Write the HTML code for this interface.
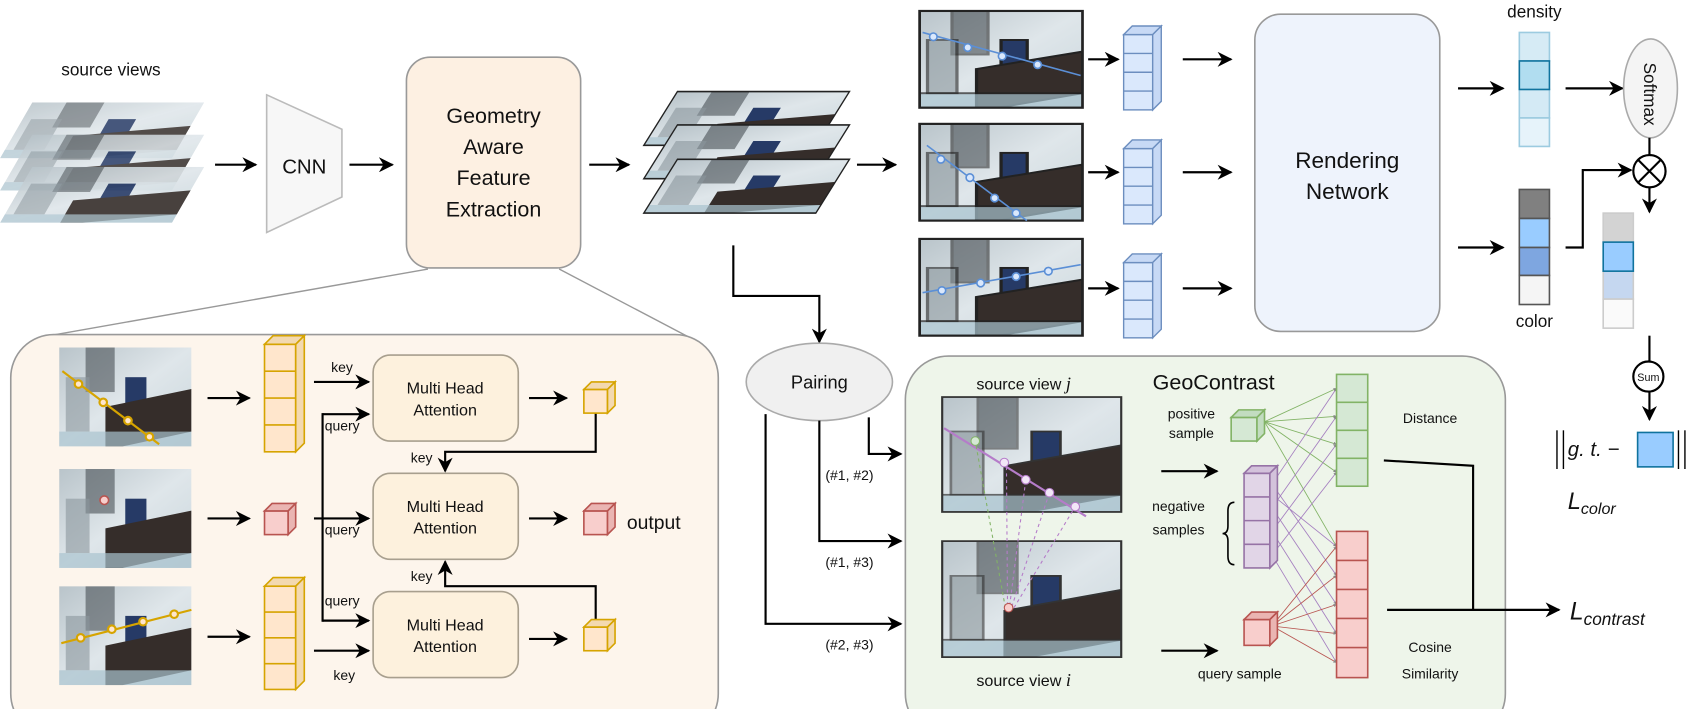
<!DOCTYPE html>
<html><head><meta charset="utf-8"><style>
html,body{margin:0;padding:0;background:#fff}
svg{display:block}
text{font-family:"Liberation Sans","DejaVu Sans",sans-serif;fill:#111}
</style></head><body>
<svg width="1686" height="709" viewBox="0 0 1568 659" xmlns="http://www.w3.org/2000/svg">
<defs>
<marker id="ar" viewBox="0 0 10 10" refX="9" refY="5" markerWidth="7" markerHeight="7" orient="auto-start-reverse"><path d="M0,0 L10,5 L0,10 L3,5 z" fill="#000"/></marker>
<marker id="sa" viewBox="0 0 10 10" refX="9" refY="5" markerWidth="4" markerHeight="4" orient="auto"><path d="M0,0 L10,5 L0,10 z" fill="#888"/></marker>
<linearGradient id="bg" x1="0" y1="0" x2="1" y2="1"><stop offset="0" stop-color="#b9c4ca"/><stop offset="0.5" stop-color="#dfe6ea"/><stop offset="1" stop-color="#c9d6dc"/></linearGradient>
<symbol id="ph" viewBox="0 0 100 100" preserveAspectRatio="none">
<rect width="100" height="100" fill="url(#bg)"/>
<rect x="20" y="0" width="22" height="45" fill="#3c4348" opacity="0.55"/>
<rect x="5" y="30" width="18" height="55" fill="#8a969c" opacity="0.6"/>
<rect x="50" y="30" width="16" height="38" fill="#263a66"/>
<polygon points="35,60 100,42 100,85 48,100 35,100" fill="#352d2a"/>
<rect x="0" y="85" width="100" height="15" fill="#a9c3cf" opacity="0.7"/>
</symbol>
</defs>

<!-- source views -->
<text x="57" y="70" font-size="16">source views</text>
<g transform="translate(30,95) skewX(-30)"><use href="#ph" width="160" height="52" opacity="0.85"/></g>
<g transform="translate(30,125) skewX(-30)"><use href="#ph" width="160" height="52" opacity="0.85"/></g>
<g transform="translate(30,155) skewX(-30)"><use href="#ph" width="160" height="52" opacity="0.9"/></g>
<line x1="200" y1="153" x2="238" y2="153" stroke="#000" stroke-width="2" marker-end="url(#ar)"/>

<polygon points="248,88 318,120 318,183 248,216" fill="#f7f7f7" stroke="#bbb" stroke-width="1.5"/>
<text x="283" y="161" font-size="19" text-anchor="middle">CNN</text>
<line x1="325" y1="153" x2="365" y2="153" stroke="#000" stroke-width="2" marker-end="url(#ar)"/>

<rect x="378" y="53" width="162" height="196" rx="22" fill="#fdf0e2" stroke="#999" stroke-width="1.5"/>
<g font-size="20" text-anchor="middle"><text x="459" y="114">Geometry</text><text x="459" y="143">Aware</text><text x="459" y="172">Feature</text><text x="459" y="201">Extraction</text></g>
<line x1="548" y1="153" x2="585" y2="153" stroke="#000" stroke-width="2" marker-end="url(#ar)"/>

<!-- feature stack -->
<g transform="translate(630,85) skewX(-32)"><use href="#ph" width="160" height="50"/><rect width="160" height="50" fill="none" stroke="#222" stroke-width="1.5"/></g>
<g transform="translate(630,116) skewX(-32)"><use href="#ph" width="160" height="50"/><rect width="160" height="50" fill="none" stroke="#222" stroke-width="1.5"/></g>
<g transform="translate(630,148) skewX(-32)"><use href="#ph" width="160" height="50"/><rect width="160" height="50" fill="none" stroke="#222" stroke-width="1.5"/></g>
<line x1="797" y1="153" x2="833" y2="153" stroke="#000" stroke-width="2" marker-end="url(#ar)"/>

<!-- three ray images -->
<g stroke="#222" stroke-width="2">
<use href="#ph" x="855" y="10" width="152" height="90"/><rect x="855" y="10" width="152" height="90" fill="none"/>
<use href="#ph" x="855" y="115" width="152" height="90"/><rect x="855" y="115" width="152" height="90" fill="none"/>
<use href="#ph" x="855" y="222" width="152" height="90"/><rect x="855" y="222" width="152" height="90" fill="none"/>
</g>
<g stroke="#5b8fd6" stroke-width="1.5" fill="#dae8fc">
<line x1="858" y1="30" x2="1005" y2="70"/><circle cx="868" cy="34" r="3.5"/><circle cx="900" cy="44" r="3.5"/><circle cx="932" cy="52" r="3.5"/><circle cx="965" cy="60" r="3.5"/>
<line x1="862" y1="135" x2="955" y2="205"/><circle cx="875" cy="148" r="3.5"/><circle cx="902" cy="165" r="3.5"/><circle cx="925" cy="184" r="3.5"/><circle cx="945" cy="198" r="3.5"/>
<line x1="858" y1="272" x2="1005" y2="246"/><circle cx="876" cy="270" r="3.5"/><circle cx="912" cy="263" r="3.5"/><circle cx="945" cy="257" r="3.5"/><circle cx="975" cy="252" r="3.5"/>
</g>
<g stroke="#000" stroke-width="2" marker-end="url(#ar)">
<line x1="1012" y1="55" x2="1040" y2="55"/><line x1="1012" y1="160" x2="1040" y2="160"/><line x1="1012" y1="268" x2="1040" y2="268"/>
<line x1="1100" y1="55" x2="1145" y2="55"/><line x1="1100" y1="160" x2="1145" y2="160"/><line x1="1100" y1="268" x2="1145" y2="268"/>
</g>
<!-- blue columns -->
<g fill="#dae8fc" stroke="#6c8ebf" stroke-width="1.3">
<g><rect x="1045" y="32" width="27" height="70"/><polygon points="1045,32 1053,24 1080,24 1072,32" fill="#c7d9f5"/><polygon points="1072,32 1080,24 1080,94 1072,102" fill="#c7d9f5"/><path d="M1045,49.5h27M1045,67h27M1045,84.5h27"/></g>
<g transform="translate(0,106)"><rect x="1045" y="32" width="27" height="70"/><polygon points="1045,32 1053,24 1080,24 1072,32" fill="#c7d9f5"/><polygon points="1072,32 1080,24 1080,94 1072,102" fill="#c7d9f5"/><path d="M1045,49.5h27M1045,67h27M1045,84.5h27"/></g>
<g transform="translate(0,212)"><rect x="1045" y="32" width="27" height="70"/><polygon points="1045,32 1053,24 1080,24 1072,32" fill="#c7d9f5"/><polygon points="1072,32 1080,24 1080,94 1072,102" fill="#c7d9f5"/><path d="M1045,49.5h27M1045,67h27M1045,84.5h27"/></g>
</g>

<rect x="1167" y="13" width="172" height="295" rx="24" fill="#eef3fc" stroke="#999" stroke-width="1.5"/>
<text x="1253" y="156" font-size="21" text-anchor="middle">Rendering</text>
<text x="1253" y="185" font-size="21" text-anchor="middle">Network</text>

<!-- density / color -->
<text x="1427" y="16" font-size="16" text-anchor="middle">density</text>
<g stroke="#9ccbe0" stroke-width="1.5"><rect x="1413" y="30" width="28" height="26.5" fill="#d6ebf5"/><rect x="1413" y="83" width="28" height="26.5" fill="#d4eaf5"/><rect x="1413" y="109.5" width="28" height="26.5" fill="#e6f3fa"/></g>
<rect x="1413" y="56.5" width="28" height="26.5" fill="#b1ddf0" stroke="#10739e" stroke-width="1.5"/>
<g stroke="#000" stroke-width="2" marker-end="url(#ar)"><line x1="1356" y1="82" x2="1398" y2="82"/><line x1="1456" y1="82" x2="1509" y2="82"/><line x1="1356" y1="230" x2="1398" y2="230"/></g>
<ellipse cx="1535" cy="82" rx="25" ry="46" fill="#f4f4f4" stroke="#aaa" stroke-width="1.5"/>
<text x="0" y="0" font-size="16" transform="translate(1529,58) rotate(90)">Softmax</text>
<line x1="1534" y1="128" x2="1534" y2="144" stroke="#000" stroke-width="2"/>
<circle cx="1534" cy="159" r="15" fill="#fff" stroke="#000" stroke-width="2"/>
<path d="M1523.5,148.5 L1544.5,169.5 M1544.5,148.5 L1523.5,169.5" stroke="#000" stroke-width="2"/>
<polyline points="1456,230 1472,230 1472,158 1517,158" fill="none" stroke="#000" stroke-width="2" marker-end="url(#ar)"/>
<g stroke="#555" stroke-width="1.5"><rect x="1413" y="176" width="28" height="27" fill="#808080"/><rect x="1413" y="203" width="28" height="27" fill="#99ccff"/><rect x="1413" y="230" width="28" height="26" fill="#7ea6e0"/><rect x="1413" y="256" width="28" height="27" fill="#f5f5f5"/></g>
<text x="1427" y="304" font-size="16" text-anchor="middle">color</text>
<line x1="1534" y1="174" x2="1534" y2="197" stroke="#000" stroke-width="2" marker-end="url(#ar)"/>
<g stroke="#ccc" stroke-width="1.5"><rect x="1491" y="198" width="28" height="27" fill="#d3d3d3"/><rect x="1491" y="252" width="28" height="26" fill="#c5d7f0"/><rect x="1491" y="278" width="28" height="27" fill="#fafafa"/></g>
<rect x="1491" y="225" width="28" height="27" fill="#99ccff" stroke="#10739e" stroke-width="1.5"/>
<line x1="1534" y1="312" x2="1534" y2="336" stroke="#000" stroke-width="2"/>
<circle cx="1533" cy="350" r="14" fill="#fff" stroke="#000" stroke-width="2"/>
<text x="1533" y="354" font-size="10" text-anchor="middle">Sum</text>
<line x1="1534" y1="364" x2="1534" y2="390" stroke="#000" stroke-width="2" marker-end="url(#ar)"/>
<g stroke="#000" stroke-width="1.3"><line x1="1448" y1="400" x2="1448" y2="436"/><line x1="1454" y1="400" x2="1454" y2="436"/><line x1="1561" y1="400" x2="1561" y2="436"/><line x1="1567" y1="400" x2="1567" y2="436"/></g>
<text x="1458" y="424" font-size="19" font-family="Liberation Serif" font-style="italic">g. t. −</text>
<rect x="1523" y="402" width="33" height="32" fill="#99ccff" stroke="#10739e" stroke-width="1.5"/>
<text x="1458" y="473" font-size="22" font-family="Liberation Serif" font-style="italic">L<tspan font-size="15" dy="5">color</tspan></text>

<!-- left detail box -->
<line x1="398" y1="250" x2="40" y2="313" stroke="#999" stroke-width="1.3"/>
<line x1="520" y1="250" x2="640" y2="313" stroke="#999" stroke-width="1.3"/>
<rect x="10" y="311" width="658" height="374" rx="40" fill="#fdf5ec" stroke="#999" stroke-width="1.5"/>
<use href="#ph" x="55" y="323" width="123" height="92"/>
<use href="#ph" x="55" y="436" width="123" height="92"/>
<use href="#ph" x="55" y="545" width="123" height="92"/>
<g stroke="#d6a400" stroke-width="2" fill="#ffe6cc">
<line x1="58" y1="345" x2="148" y2="413"/><circle cx="73" cy="357" r="3.5"/><circle cx="96" cy="374" r="3.5"/><circle cx="119" cy="391" r="3.5"/><circle cx="139" cy="406" r="3.5"/>
<line x1="57" y1="598" x2="178" y2="567"/><circle cx="75" cy="593" r="3.5"/><circle cx="104" cy="585" r="3.5"/><circle cx="133" cy="578" r="3.5"/><circle cx="162" cy="571" r="3.5"/>
</g>
<circle cx="97" cy="465" r="4" fill="#f8cecc" stroke="#b85450" stroke-width="1.5"/>
<g stroke="#000" stroke-width="2" marker-end="url(#ar)">
<line x1="193" y1="370" x2="232" y2="370"/><line x1="193" y1="482" x2="232" y2="482"/><line x1="193" y1="592" x2="232" y2="592"/>
<line x1="292" y1="355" x2="343" y2="355"/><line x1="292" y1="605" x2="343" y2="605"/><line x1="292" y1="482" x2="343" y2="482"/>
<line x1="300" y1="385" x2="343" y2="385"/><line x1="300" y1="577" x2="343" y2="577"/>
<line x1="492" y1="370" x2="527" y2="370"/><line x1="492" y1="482" x2="527" y2="482"/><line x1="492" y1="594" x2="527" y2="594"/>
</g>
<line x1="300" y1="384" x2="300" y2="578" stroke="#000" stroke-width="2"/>
<polyline points="554,384 554,420 414,420 414,438" fill="none" stroke="#000" stroke-width="2" marker-end="url(#ar)"/>
<polyline points="554,582 554,545 414,545 414,522" fill="none" stroke="#000" stroke-width="2" marker-end="url(#ar)"/>
<g font-size="13"><text x="308" y="346">key</text><text x="302" y="400">query</text><text x="382" y="430">key</text><text x="302" y="497">query</text><text x="382" y="540">key</text><text x="302" y="563">query</text><text x="310" y="632">key</text></g>
<g fill="#fdf1dd" stroke="#a89f8e" stroke-width="1.5">
<rect x="347" y="330" width="135" height="80" rx="16"/><rect x="347" y="440" width="135" height="80" rx="16"/><rect x="347" y="550" width="135" height="80" rx="16"/>
</g>
<g font-size="15" text-anchor="middle"><text x="414" y="366">Multi Head</text><text x="414" y="386">Attention</text><text x="414" y="476">Multi Head</text><text x="414" y="496">Attention</text><text x="414" y="586">Multi Head</text><text x="414" y="606">Attention</text></g>
<!-- orange columns -->
<g fill="#ffe6cc" stroke="#d6a400" stroke-width="1.5">
<rect x="246" y="320" width="29" height="100"/><polygon points="246,320 254,312 283,312 275,320" fill="#f3d9b0"/><polygon points="275,320 283,312 283,412 275,420" fill="#f3d9b0"/><path d="M246,345h29M246,370h29M246,395h29"/>
<rect x="246" y="545" width="29" height="96"/><polygon points="246,545 254,537 283,537 275,545" fill="#f3d9b0"/><polygon points="275,545 283,537 283,633 275,641" fill="#f3d9b0"/><path d="M246,569h29M246,593h29M246,617h29"/>
<rect x="543" y="362" width="22" height="22"/><polygon points="543,362 550,355 572,355 565,362" fill="#f3d9b0"/><polygon points="565,362 572,355 572,377 565,384" fill="#f3d9b0"/>
<rect x="543" y="583" width="22" height="22"/><polygon points="543,583 550,576 572,576 565,583" fill="#f3d9b0"/><polygon points="565,583 572,576 572,598 565,605" fill="#f3d9b0"/>
</g>
<g fill="#f8cecc" stroke="#b85450" stroke-width="1.5">
<rect x="246" y="475" width="22" height="22"/><polygon points="246,475 253,468 275,468 268,475" fill="#eab5b2"/><polygon points="268,475 275,468 275,490 268,497" fill="#eab5b2"/>
<rect x="543" y="475" width="22" height="22"/><polygon points="543,475 550,468 572,468 565,475" fill="#eab5b2"/><polygon points="565,475 572,468 572,490 565,497" fill="#eab5b2"/>
</g>
<text x="583" y="492" font-size="18">output</text>

<!-- pairing -->
<polyline points="682,228 682,275 762,275 762,318" fill="none" stroke="#000" stroke-width="2" marker-end="url(#ar)"/>
<ellipse cx="762" cy="355" rx="68" ry="36" fill="#f0f0f0" stroke="#aaa" stroke-width="1.5"/>
<text x="762" y="361" font-size="17" text-anchor="middle">Pairing</text>
<g fill="none" stroke="#000" stroke-width="2" marker-end="url(#ar)">
<polyline points="808,388 808,422 838,422"/><polyline points="762,391 762,503 838,503"/><polyline points="712,385 712,580 838,580"/>
</g>
<g font-size="13" text-anchor="middle"><text x="790" y="446">(#1, #2)</text><text x="790" y="527">(#1, #3)</text><text x="790" y="604">(#2, #3)</text></g>

<!-- GeoContrast -->
<rect x="842" y="331" width="558" height="354" rx="40" fill="#eef5ea" stroke="#999" stroke-width="1.5"/>
<text x="1072" y="362" font-size="20">GeoContrast</text>
<text x="908" y="362" font-size="15">source view <tspan font-family="Liberation Serif" font-style="italic" font-size="17">j</tspan></text>
<text x="908" y="638" font-size="15">source view <tspan font-family="Liberation Serif" font-style="italic" font-size="17">i</tspan></text>
<g stroke="#333" stroke-width="1.5">
<use href="#ph" x="876" y="369" width="167" height="107"/><rect x="876" y="369" width="167" height="107" fill="none"/>
<use href="#ph" x="876" y="503" width="167" height="108"/><rect x="876" y="503" width="167" height="108" fill="none"/>
</g>
<line x1="878" y1="398" x2="1010" y2="480" stroke="#b57cc9" stroke-width="2"/>
<g stroke-dasharray="3,3" stroke-width="1" fill="none"><path d="M935,565 L907,410" stroke="#82b366"/><path d="M937,563 L936,430 M939,563 L954,446 M941,564 L976,458 M943,565 L1000,471" stroke="#b57cc9"/></g>
<circle cx="907" cy="410" r="4" fill="#d5e8d4" stroke="#82b366"/>
<g fill="#f2e6f7" stroke="#b57cc9"><circle cx="934" cy="430" r="4"/><circle cx="954" cy="446" r="4"/><circle cx="976" cy="458" r="4"/><circle cx="1000" cy="471" r="4"/></g>
<circle cx="938" cy="565" r="4" fill="#f8cecc" stroke="#b85450"/>
<g stroke="#000" stroke-width="2" marker-end="url(#ar)"><line x1="1080" y1="438" x2="1132" y2="438"/><line x1="1080" y1="605" x2="1132" y2="605"/></g>
<g font-size="13" text-anchor="middle"><text x="1108" y="389">positive</text><text x="1108" y="407">sample</text><text x="1096" y="475">negative</text><text x="1096" y="497">samples</text><text x="1153" y="631">query sample</text><text x="1330" y="393">Distance</text><text x="1330" y="606">Cosine</text><text x="1330" y="631">Similarity</text></g>
<path d="M1148,467 q-6,0 -6,8 v14 q0,7 -5,7 q5,0 5,7 v14 q0,8 6,8" fill="none" stroke="#000" stroke-width="1.5"/>
<!-- fan lines -->
<g stroke-width="0.8" marker-end="url(#sa)">
<g stroke="#82b366"><line x1="1176" y1="392" x2="1243" y2="361"/><line x1="1176" y1="392" x2="1243" y2="387"/><line x1="1176" y1="392" x2="1243" y2="413"/><line x1="1176" y1="392" x2="1243" y2="439"/><line x1="1176" y1="392" x2="1243" y2="508"/></g>
<g stroke="#a57fc0"><line x1="1183" y1="450" x2="1243" y2="361"/><line x1="1183" y1="472" x2="1243" y2="387"/><line x1="1183" y1="494" x2="1243" y2="413"/><line x1="1183" y1="516" x2="1243" y2="439"/><line x1="1183" y1="450" x2="1243" y2="535"/><line x1="1183" y1="472" x2="1243" y2="562"/><line x1="1183" y1="494" x2="1243" y2="589"/><line x1="1183" y1="516" x2="1243" y2="616"/><line x1="1183" y1="460" x2="1243" y2="508"/></g>
<g stroke="#b85450"><line x1="1183" y1="582" x2="1243" y2="508"/><line x1="1183" y1="582" x2="1243" y2="535"/><line x1="1183" y1="582" x2="1243" y2="562"/><line x1="1183" y1="582" x2="1243" y2="589"/><line x1="1183" y1="582" x2="1243" y2="616"/></g>
</g>
<g fill="#d5e8d4" stroke="#82b366" stroke-width="1.5">
<rect x="1145" y="388" width="24" height="22"/><polygon points="1145,388 1152,381 1176,381 1169,388" fill="#c2dcc0"/><polygon points="1169,388 1176,381 1176,403 1169,410" fill="#c2dcc0"/>
<rect x="1243" y="348" width="29" height="104"/><path d="M1243,374h29M1243,400h29M1243,426h29"/>
</g>
<g fill="#e1d5e7" stroke="#9673a6" stroke-width="1.5">
<rect x="1157" y="440" width="24" height="88"/><polygon points="1157,440 1164,433 1188,433 1181,440" fill="#d3c2db"/><polygon points="1181,440 1188,433 1188,521 1181,528" fill="#d3c2db"/><path d="M1157,462h24M1157,484h24M1157,506h24"/>
</g>
<g fill="#f8cecc" stroke="#b85450" stroke-width="1.5">
<rect x="1157" y="576" width="24" height="24"/><polygon points="1157,576 1164,569 1188,569 1181,576" fill="#eab5b2"/><polygon points="1181,576 1188,569 1188,593 1181,600" fill="#eab5b2"/>
<rect x="1243" y="494" width="29" height="136"/><path d="M1243,521h29M1243,548h29M1243,575h29M1243,602h29"/>
</g>
<polyline points="1287,428 1370,433 1370,567" fill="none" stroke="#000" stroke-width="2"/>
<line x1="1290" y1="567" x2="1450" y2="567" stroke="#000" stroke-width="2" marker-end="url(#ar)"/>
<text x="1460" y="576" font-size="23" font-family="Liberation Serif" font-style="italic">L<tspan font-size="16" dy="5">contrast</tspan></text>
</svg>
</body></html>
